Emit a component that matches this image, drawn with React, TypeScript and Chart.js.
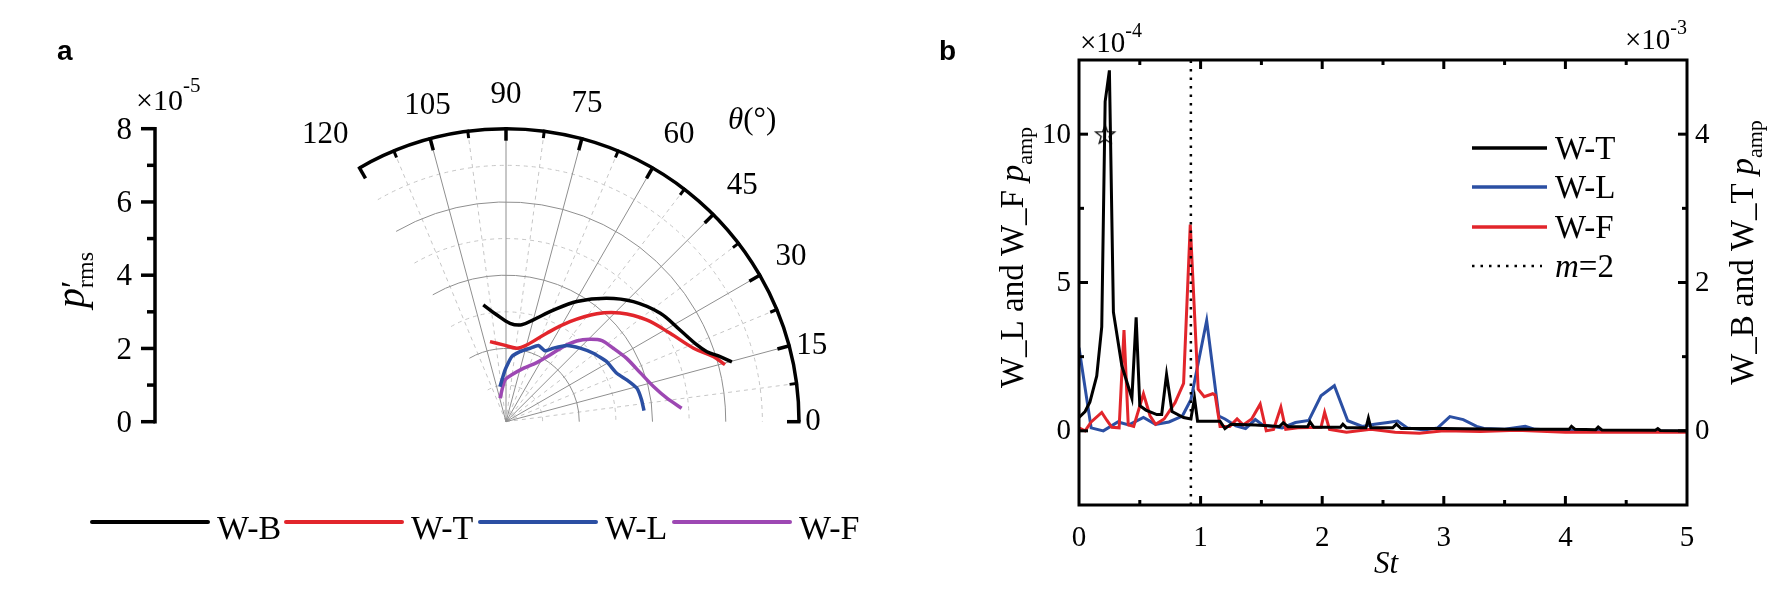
import React, { useEffect, useRef } from 'react';
import { Chart, registerables } from 'chart.js';
Chart.register(...registerables);

const SERIF = '"Liberation Serif", "Times New Roman", serif';
const SANS = '"Liberation Sans", Arial, sans-serif';

// ---------------- Panel a data (polar: theta in degrees, p'rms in 1e-5) ----------------
const polarNames = ['W-B', 'W-T', 'W-L', 'W-F'];
const wbTheta = [101.0, 95.0, 87.7, 80.8, 75.0, 67.0, 59.5, 50.8, 43.3, 35.1, 27.8, 21.9, 19.2, 16.9, 14.8];
const wbRms = [3.25, 2.93, 2.69, 2.68, 2.88, 3.31, 3.81, 4.35, 4.78, 5.15, 5.37, 5.62, 5.81, 6.11, 6.38];
const wtTheta = [101.3, 92.0, 81.7, 74.9, 65.3, 57.4, 49.9, 43.6, 35.9, 28.3, 21.4, 17.4, 14.6];
const wtRms = [2.23, 2.1, 2.03, 2.17, 2.66, 3.24, 3.85, 4.3, 4.74, 5.09, 5.5, 5.94, 6.18];
const wlTheta = [99.7, 91.1, 85.0, 78.7, 71.9, 67.0, 61.2, 57.2, 51.4, 44.8, 38.1, 30.8, 23.6, 19.1, 14.3, 9.1, 4.6];
const wlRms = [0.97, 1.41, 1.78, 1.95, 2.11, 2.26, 2.21, 2.39, 2.66, 2.85, 3.03, 3.2, 3.3, 3.49, 3.69, 3.75, 3.78];
const wfTheta = [104.4, 91.4, 83.0, 72.0, 62.5, 56.6, 52.6, 48.8, 44.5, 40.2, 34.4, 27.7, 20.1, 13.4, 8.3, 4.4];
const wfRms = [0.66, 1.14, 1.29, 1.53, 1.82, 2.18, 2.58, 2.93, 3.21, 3.43, 3.55, 3.72, 3.9, 4.14, 4.44, 4.81];
const angleTicks = [0, 15, 30, 45, 60, 75, 90, 105, 120];
const angleTickLabels = ['0', '15', '30', '45', '60', '75', '90', '105', '120'];
const rTicks = [0, 2, 4, 6, 8];
const rTickLabels = ['0', '2', '4', '6', '8'];
const rMax = 8;

// ---------------- Panel b data ----------------
const legendB = ['W-T', 'W-L', 'W-F'];
const stTicks = [0, 1, 2, 3, 4, 5];
const leftTicks = [0, 5, 10];
const rightTicks = [0, 2, 4];
// W-T (black), x10^-3, right axis
const wtSt = [0, 0.05, 0.09, 0.146, 0.187, 0.215, 0.25, 0.283, 0.352, 0.435, 0.47, 0.5, 0.55, 0.64, 0.68, 0.72, 0.765, 0.86, 0.92, 0.95, 0.975, 1.16, 1.2, 1.25, 1.45, 1.65, 1.68, 1.72, 1.88, 1.9, 1.93, 2.15, 2.17, 2.2, 2.36, 2.38, 2.4, 2.58, 2.61, 2.65, 3.0, 3.5, 4.03, 4.05, 4.08, 4.25, 4.27, 4.3, 4.74, 4.76, 4.78, 5.0];
const wtAmp = [0.18, 0.26, 0.39, 0.74, 1.4, 4.44, 4.86, 1.6, 0.88, 0.44, 1.53, 0.34, 0.28, 0.22, 0.22, 0.76, 0.26, 0.18, 0.16, 0.44, 0.13, 0.13, 0.03, 0.09, 0.08, 0.06, 0.11, 0.056, 0.056, 0.12, 0.05, 0.05, 0.09, 0.04, 0.04, 0.17, 0.04, 0.04, 0.09, 0.03, 0.03, 0.02, 0.02, 0.06, 0.02, 0.016, 0.05, 0.012, 0.008, 0.03, 0.004, 0];
// W-L (blue), x10^-4, left axis
const wlSt = [0, 0.1, 0.2, 0.32, 0.41, 0.53, 0.63, 0.74, 0.85, 0.92, 1.05, 1.15, 1.2, 1.29, 1.37, 1.45, 1.51, 1.67, 1.78, 1.89, 1.99, 2.1, 2.21, 2.33, 2.43, 2.54, 2.62, 2.7, 2.84, 2.95, 3.05, 3.16, 3.27, 3.33, 3.5, 3.67, 3.75, 3.95, 4.5, 5.0];
const wlAmp = [2.8, 0.1, 0.0, 0.3, 0.2, 0.45, 0.22, 0.3, 0.5, 1.05, 3.72, 0.5, 0.4, 0.17, 0.08, 0.38, 0.2, 0.1, 0.28, 0.35, 1.18, 1.52, 0.34, 0.15, 0.22, 0.28, 0.33, 0.1, 0.03, 0.1, 0.48, 0.38, 0.15, 0.08, 0.05, 0.15, 0.05, 0.02, 0.0, -0.02];
// W-F (red), x10^-4, left axis
const wfSt = [0, 0.05, 0.1, 0.187, 0.23, 0.27, 0.33, 0.37, 0.405, 0.45, 0.53, 0.585, 0.63, 0.7, 0.79, 0.86, 0.915, 0.98, 1.03, 1.1, 1.12, 1.16, 1.24, 1.3, 1.35, 1.42, 1.49, 1.54, 1.6, 1.66, 1.7, 1.8, 1.99, 2.02, 2.06, 2.2, 2.4, 2.6, 2.8, 3.0, 3.3, 3.6, 4.0, 4.5, 5.0];
const wfAmp = [0.1, 0.0, 0.3, 0.62, 0.35, 0.12, 0.1, 3.4, 0.2, 0.15, 1.25, 0.5, 0.22, 0.4, 0.95, 1.6, 6.95, 1.4, 1.15, 1.25, 1.2, 0.15, 0.15, 0.4, 0.2, 0.4, 0.9, 0.0, 0.05, 0.8, 0.05, 0.1, 0.12, 0.62, 0.05, -0.05, 0.05, -0.05, -0.08, 0.0, -0.02, 0.02, -0.05, -0.05, -0.05];
const modeSt = 0.92; // m=2
const starSt = 0.215;
const starAmp = 10;

// ---------------- styles ----------------
const BLACK = '#000000';
const RED = '#e2252b';
const BLUE = '#2b4fa3';
const PURPLE = '#9d48b3';
const GRID_MAJOR = '#8f8f8f';
const GRID_MINOR = '#c6c6c6';

type Run = { t: string; font: string; dy?: number; adv?: boolean };
function drawRuns(ctx: CanvasRenderingContext2D, runs: Run[], x: number, y: number, align: 'left' | 'center' | 'right', rot = 0) {
  ctx.save();
  ctx.translate(x, y);
  if (rot) ctx.rotate(rot);
  let w = 0;
  for (const r of runs) {
    ctx.font = r.font;
    if (r.adv !== false) w += ctx.measureText(r.t).width;
  }
  let px = align === 'left' ? 0 : align === 'center' ? -w / 2 : -w;
  ctx.textAlign = 'left';
  ctx.textBaseline = 'alphabetic';
  ctx.fillStyle = '#000';
  for (const r of runs) {
    ctx.font = r.font;
    ctx.fillText(r.t, px, r.dy || 0);
    if (r.adv !== false) px += ctx.measureText(r.t).width;
  }
  ctx.restore();
}

const toXY = (th: number[], r: number[]) =>
  th.map((t, i) => ({ x: r[i] * Math.cos((t * Math.PI) / 180), y: r[i] * Math.sin((t * Math.PI) / 180) }));
const toPts = (xs: number[], ys: number[]) => xs.map((x, i) => ({ x, y: ys[i] }));

// label layout for polar angle labels (extra radial gap in px, angular nudge in deg)
const ANGLE_LABEL_GAP = [14, 22, 36, 41, 42, 35, 34, 32, 46];
const ANGLE_LABEL_NUDGE = [0, -1.0, 0.0, 0, -1.1, 0.7, 0, -1, 2.2];

const polarPlugin = {
  id: 'polarDecor',
  beforeDatasetsDraw(chart: any) {
    const ctx: CanvasRenderingContext2D = chart.ctx;
    const xs = chart.scales.x;
    const ys = chart.scales.y;
    const cx = xs.getPixelForValue(0);
    const cy = ys.getPixelForValue(0);
    const rp = (r: number) => cy - ys.getPixelForValue(r);
    const A = (d: number) => (d * Math.PI) / 180;
    const R = rp(rMax);
    ctx.save();
    ctx.lineWidth = 1;
    ctx.strokeStyle = GRID_MINOR;
    ctx.setLineDash([4, 4]);
    for (const r of [1, 3, 5, 7]) {
      ctx.beginPath();
      ctx.arc(cx, cy, rp(r), -A(120), 0);
      ctx.stroke();
    }
    for (let a = 7.5; a < 120; a += 15) {
      ctx.beginPath();
      ctx.moveTo(cx, cy);
      ctx.lineTo(cx + R * Math.cos(A(a)), cy - R * Math.sin(A(a)));
      ctx.stroke();
    }
    ctx.setLineDash([]);
    ctx.strokeStyle = GRID_MAJOR;
    for (const r of [2, 4, 6]) {
      ctx.beginPath();
      ctx.arc(cx, cy, rp(r), -A(120), 0);
      ctx.stroke();
    }
    for (let a = 15; a < 120; a += 15) {
      ctx.beginPath();
      ctx.moveTo(cx, cy);
      ctx.lineTo(cx + R * Math.cos(A(a)), cy - R * Math.sin(A(a)));
      ctx.stroke();
    }
    ctx.restore();
  },
  afterDatasetsDraw(chart: any) {
    const ctx: CanvasRenderingContext2D = chart.ctx;
    const xs = chart.scales.x;
    const ys = chart.scales.y;
    const cx = xs.getPixelForValue(0);
    const cy = ys.getPixelForValue(0);
    const rp = (r: number) => cy - ys.getPixelForValue(r);
    const A = (d: number) => (d * Math.PI) / 180;
    const R = rp(rMax);
    ctx.save();
    ctx.strokeStyle = BLACK;
    ctx.lineCap = 'butt';
    // outer arc
    ctx.lineWidth = 3.5;
    ctx.beginPath();
    ctx.arc(cx, cy, R, -A(120), 0);
    ctx.stroke();
    // angular ticks (inward)
    for (let a = 0; a <= 120; a += 7.5) {
      const major = a % 15 === 0;
      const len = major ? 12 : 7;
      ctx.lineWidth = major ? 3.5 : 3;
      ctx.beginPath();
      ctx.moveTo(cx + (R + 1.5) * Math.cos(A(a)), cy - (R + 1.5) * Math.sin(A(a)));
      ctx.lineTo(cx + (R - len) * Math.cos(A(a)), cy - (R - len) * Math.sin(A(a)));
      ctx.stroke();
    }
    // angle labels
    ctx.fillStyle = '#000';
    ctx.font = `31px ${SERIF}`;
    ctx.textAlign = 'center';
    ctx.textBaseline = 'middle';
    angleTicks.forEach((a, i) => {
      const d = R + ANGLE_LABEL_GAP[i];
      const t = A(a + ANGLE_LABEL_NUDGE[i]);
      ctx.fillText(angleTickLabels[i], cx + d * Math.cos(t), cy - d * Math.sin(t));
    });
    drawRuns(ctx, [
      { t: 'θ', font: `italic 31px ${SERIF}` },
      { t: '(°)', font: `31px ${SERIF}` },
    ], cx + R * 0.84, cy - R + 0.5, 'center');

    // left radial scale
    const ax = chart.chartArea.left;
    ctx.lineWidth = 3.5;
    ctx.beginPath();
    ctx.moveTo(ax, ys.getPixelForValue(0) + 1.75);
    ctx.lineTo(ax, ys.getPixelForValue(rMax) - 1.75);
    ctx.stroke();
    for (let v = 0; v <= rMax; v += 1) {
      const len = v % 2 === 0 ? 14 : 8;
      const py = ys.getPixelForValue(v);
      ctx.beginPath();
      ctx.moveTo(ax, py);
      ctx.lineTo(ax - len, py);
      ctx.stroke();
    }
    ctx.font = `31px ${SERIF}`;
    ctx.textAlign = 'right';
    ctx.textBaseline = 'middle';
    rTicks.forEach((v, i) => ctx.fillText(rTickLabels[i], ax - 23, ys.getPixelForValue(v) + 2));
    drawRuns(ctx, [
      { t: '×10', font: `30px ${SERIF}` },
      { t: '-5', font: `21px ${SERIF}`, dy: -18 },
    ], ax - 19, ys.getPixelForValue(rMax) - 19, 'left');
    drawRuns(ctx, [
      { t: 'p', font: `italic 40px ${SERIF}` },
      { t: '′', font: `34px ${SERIF}`, adv: false },
      { t: 'rms', font: `24px ${SERIF}`, dy: 9 },
    ], 84, 280, 'center', -Math.PI / 2);

    // legend
    const colors = [BLACK, RED, BLUE, PURPLE];
    const ly = 522;
    polarNames.forEach((n, i) => {
      const x0 = 92 + i * 194;
      ctx.strokeStyle = colors[i];
      ctx.lineWidth = 4;
      ctx.lineCap = 'round';
      ctx.beginPath();
      ctx.moveTo(x0, ly);
      ctx.lineTo(x0 + 116, ly);
      ctx.stroke();
      ctx.fillStyle = '#000';
      ctx.font = `34px ${SERIF}`;
      ctx.textAlign = 'left';
      ctx.textBaseline = 'alphabetic';
      ctx.fillText(n, x0 + 125, ly + 17);
    });
    // panel letter
    ctx.font = `bold 28px ${SANS}`;
    ctx.textAlign = 'left';
    ctx.fillText('a', 57, 60);
    ctx.restore();
  },
};

const specPlugin = {
  id: 'specDecor',
  afterDatasetsDraw(chart: any) {
    const ctx: CanvasRenderingContext2D = chart.ctx;
    const { left, right, top, bottom } = chart.chartArea;
    const xs = chart.scales.x;
    const ys = chart.scales.y;
    const y1 = chart.scales.y1;
    ctx.save();
    ctx.strokeStyle = BLACK;
    ctx.fillStyle = '#000';
    ctx.lineWidth = 3;
    ctx.lineCap = 'butt';
    ctx.strokeRect(left, top, right - left, bottom - top);
    // x ticks (inward, top and bottom)
    for (let v = 0.5; v < 5; v += 0.5) {
      const len = Number.isInteger(v) ? 9 : 5;
      const px = xs.getPixelForValue(v);
      ctx.beginPath();
      ctx.moveTo(px, top);
      ctx.lineTo(px, top + len);
      ctx.moveTo(px, bottom);
      ctx.lineTo(px, bottom - len);
      ctx.stroke();
    }
    // left ticks
    for (let v = 0; v <= 10; v += 2.5) {
      const len = v % 5 === 0 ? 9 : 5;
      const py = ys.getPixelForValue(v);
      ctx.beginPath();
      ctx.moveTo(left, py);
      ctx.lineTo(left + len, py);
      ctx.stroke();
    }
    // right ticks
    for (let v = 0; v <= 4; v += 1) {
      const len = v % 2 === 0 ? 9 : 5;
      const py = y1.getPixelForValue(v);
      ctx.beginPath();
      ctx.moveTo(right, py);
      ctx.lineTo(right - len, py);
      ctx.stroke();
    }
    // tick labels
    ctx.font = `29px ${SERIF}`;
    ctx.textBaseline = 'middle';
    ctx.textAlign = 'center';
    stTicks.forEach((v) => ctx.fillText(String(v), xs.getPixelForValue(v), bottom + 33));
    ctx.textAlign = 'right';
    leftTicks.forEach((v) => ctx.fillText(String(v), left - 8, ys.getPixelForValue(v) + 1));
    ctx.textAlign = 'left';
    rightTicks.forEach((v) => ctx.fillText(String(v), right + 8, y1.getPixelForValue(v) + 1));
    // exponents
    drawRuns(ctx, [
      { t: '×10', font: `29px ${SERIF}` },
      { t: '-4', font: `20px ${SERIF}`, dy: -15 },
    ], left + 1, top - 8, 'left');
    drawRuns(ctx, [
      { t: '×10', font: `29px ${SERIF}` },
      { t: '-3', font: `20px ${SERIF}`, dy: -15 },
    ], right, top - 11, 'right');
    // axis titles
    drawRuns(ctx, [{ t: 'St', font: `italic 31px ${SERIF}` }], (left + right) / 2 + 3, bottom + 68, 'center');
    const mid = (top + bottom) / 2;
    drawRuns(ctx, [
      { t: 'W_L and W_F ', font: `33px ${SERIF}` },
      { t: 'p', font: `italic 34px ${SERIF}` },
      { t: 'amp', font: `22px ${SERIF}`, dy: 9 },
    ], left - 56, mid - 25, 'center', -Math.PI / 2);
    drawRuns(ctx, [
      { t: 'W_B and W_T ', font: `33px ${SERIF}` },
      { t: 'p', font: `italic 34px ${SERIF}` },
      { t: 'amp', font: `22px ${SERIF}`, dy: 9 },
    ], right + 66, mid - 30, 'center', -Math.PI / 2);
    // legend
    const lx0 = right - 215;
    const lx1 = right - 140;
    const rows = [148, 187, 227, 266];
    const cols = [BLACK, BLUE, RED];
    legendB.forEach((n, i) => {
      ctx.strokeStyle = cols[i];
      ctx.lineWidth = 3.5;
      ctx.beginPath();
      ctx.moveTo(lx0, rows[i]);
      ctx.lineTo(lx1, rows[i]);
      ctx.stroke();
      drawRuns(ctx, [{ t: n, font: `33px ${SERIF}` }], lx1 + 8, rows[i] + 11, 'left');
    });
    ctx.strokeStyle = BLACK;
    ctx.lineWidth = 2.5;
    ctx.setLineDash([2.5, 6]);
    ctx.beginPath();
    ctx.moveTo(lx0, rows[3]);
    ctx.lineTo(lx1 - 5, rows[3]);
    ctx.stroke();
    ctx.setLineDash([]);
    drawRuns(ctx, [
      { t: 'm', font: `italic 33px ${SERIF}` },
      { t: '=2', font: `33px ${SERIF}` },
    ], lx1 + 8, rows[3] + 11, 'left');
    ctx.font = `bold 28px ${SANS}`;
    ctx.textAlign = 'left';
    ctx.textBaseline = 'alphabetic';
    ctx.fillStyle = '#000';
    ctx.fillText('b', 39, 60);
    ctx.restore();
  },
};

function makeStar(): HTMLCanvasElement {
  const c = document.createElement('canvas');
  c.width = 24;
  c.height = 24;
  const g = c.getContext('2d')!;
  g.beginPath();
  for (let i = 0; i < 10; i++) {
    const a = -Math.PI / 2 + (i * Math.PI) / 5;
    const rr = i % 2 === 0 ? 10 : 4.2;
    const px = 12 + rr * Math.cos(a);
    const py = 13 + rr * Math.sin(a);
    if (i === 0) g.moveTo(px, py);
    else g.lineTo(px, py);
  }
  g.closePath();
  g.strokeStyle = '#000';
  g.lineWidth = 1.3;
  g.stroke();
  return c;
}

export default function App() {
  const refA = useRef<HTMLCanvasElement>(null);
  const refB = useRef<HTMLCanvasElement>(null);

  useEffect(() => {
    const polarSets = [
      { th: wbTheta, r: wbRms, c: BLACK, t: 0.35 },
      { th: wtTheta, r: wtRms, c: RED, t: 0.35 },
      { th: wlTheta, r: wlRms, c: BLUE, t: 0.15 },
      { th: wfTheta, r: wfRms, c: PURPLE, t: 0.25 },
    ];
    const chartA = new Chart(refA.current!, {
      type: 'scatter',
      data: {
        datasets: polarSets.map((s, i) => ({
          label: polarNames[i],
          data: toXY(s.th, s.r),
          showLine: true,
          borderColor: s.c,
          backgroundColor: s.c,
          borderWidth: 3.5,
          pointRadius: 0,
          tension: s.t,
          clip: false,
        })),
      },
      options: {
        responsive: false,
        maintainAspectRatio: false,
        devicePixelRatio: 1,
        animation: false,
        events: [],
        layout: { padding: { left: 155, right: 43, top: 128.7, bottom: 170.3 } },
        scales: {
          x: { type: 'linear', min: -9.584, max: 9.584, display: false },
          y: { type: 'linear', min: 0, max: rMax, display: false },
        },
        plugins: { legend: { display: false }, tooltip: { enabled: false } },
      },
      plugins: [polarPlugin],
    } as any);

    const star = makeStar();
    const chartB = new Chart(refB.current!, {
      type: 'scatter',
      data: {
        datasets: [
          {
            label: 'm=2',
            data: [{ x: modeSt, y: -2.5 }, { x: modeSt, y: 12.5 }],
            showLine: true,
            borderColor: BLACK,
            borderWidth: 2.5,
            borderDash: [2.5, 6],
            pointRadius: 0,
            yAxisID: 'y',
          },
          {
            label: 'star',
            data: [{ x: starSt, y: starAmp }],
            showLine: false,
            pointStyle: star,
            pointRadius: 10,
            yAxisID: 'y',
          },
          {
            label: legendB[0],
            data: toPts(wtSt, wtAmp),
            showLine: true,
            borderColor: BLACK,
            borderWidth: 3,
            pointRadius: 0,
            tension: 0,
            yAxisID: 'y1',
          },
          {
            label: legendB[2],
            data: toPts(wfSt, wfAmp),
            showLine: true,
            borderColor: RED,
            borderWidth: 3,
            pointRadius: 0,
            tension: 0,
            yAxisID: 'y',
          },
          {
            label: legendB[1],
            data: toPts(wlSt, wlAmp),
            showLine: true,
            borderColor: BLUE,
            borderWidth: 3,
            pointRadius: 0,
            tension: 0,
            yAxisID: 'y',
          },
        ],
      },
      options: {
        responsive: false,
        maintainAspectRatio: false,
        devicePixelRatio: 1,
        animation: false,
        events: [],
        layout: { padding: { left: 179, right: 100, top: 60, bottom: 87 } },
        scales: {
          x: { type: 'linear', min: 0, max: 5, display: false },
          y: { type: 'linear', min: -2.5, max: 12.5, display: false },
          y1: { type: 'linear', min: -1, max: 5, display: false, position: 'right' },
        },
        plugins: { legend: { display: false }, tooltip: { enabled: false } },
      },
      plugins: [specPlugin],
    } as any);

    return () => {
      chartA.destroy();
      chartB.destroy();
    };
  }, []);

  return (
    <div style={{ position: 'absolute', left: 0, top: 0, width: 1787, height: 592, background: '#fff', overflow: 'hidden' }}>
      <canvas ref={refA} width={900} height={592} style={{ position: 'absolute', left: 0, top: 0, width: 900, height: 592 }} />
      <canvas ref={refB} width={887} height={592} style={{ position: 'absolute', left: 900, top: 0, width: 887, height: 592 }} />
    </div>
  );
}
